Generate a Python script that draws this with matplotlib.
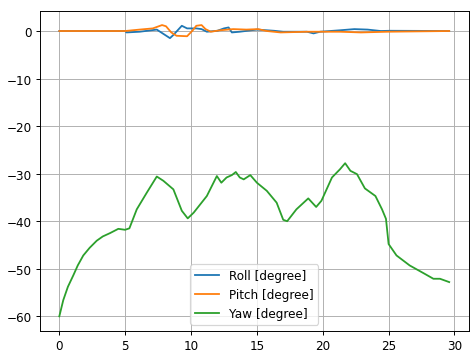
import numpy as np
import matplotlib
matplotlib.use("Agg")
import matplotlib.pyplot as plt

# yaw [degree] over time
yaw_t = [0.0, 0.3, 0.65, 1.06, 1.4, 1.82, 2.3, 2.84, 3.3, 3.85, 4.48, 4.99, 5.32, 5.88,
         6.64, 7.4, 7.9, 8.66, 9.3, 9.75, 10.2, 11.2, 11.96, 12.3, 12.7, 13.1, 13.4,
         13.7, 14.0, 14.5, 15.0, 15.75, 16.5, 17.0, 17.3, 18.0, 18.9, 19.5, 19.9,
         20.7, 21.3, 21.7, 22.1, 22.6, 23.2, 24.0, 24.5, 24.8, 25.0, 25.6, 26.6,
         27.7, 28.4, 28.9, 29.6]
yaw = [-60.0, -56.6, -53.8, -51.4, -49.3, -47.2, -45.6, -44.1, -43.2, -42.5, -41.6,
       -41.8, -41.5, -37.5, -34.0, -30.6, -31.5, -33.3, -37.8, -39.4, -38.2, -34.7,
       -30.5, -31.9, -30.8, -30.3, -29.65, -30.8, -31.2, -30.3, -31.9, -33.6, -36.1,
       -39.7, -40.0, -37.5, -35.2, -37.0, -35.7, -30.8, -29.1, -27.8, -29.4, -30.1,
       -33.1, -34.7, -37.5, -39.5, -44.8, -47.2, -49.3, -51.0, -52.1, -52.1, -52.8]

roll_t = [0.0, 5.0, 5.1, 6.1, 7.4, 7.9, 8.4, 8.67, 9.3, 9.7, 10.4, 10.8, 11.2, 12.0,
          12.5, 12.85, 13.1, 13.7, 15.0, 16.3, 17.0, 18.8, 19.3, 19.8, 21.3, 22.4,
          23.4, 24.4, 25.1, 29.6]
roll = [0.0, 0.0, -0.3, -0.15, 0.3, -0.6, -1.5, -0.8, 1.1, 0.55, 0.55, 0.4, -0.15,
        0.05, 0.55, 0.75, -0.3, -0.15, 0.3, 0.05, -0.15, -0.15, -0.5, -0.15, 0.15,
        0.4, 0.3, 0.0, 0.05, 0.0]

pitch_t = [0.0, 5.0, 6.1, 7.1, 7.8, 8.1, 8.5, 8.9, 9.7, 10.1, 10.4, 10.8, 11.1, 11.5,
           12.2, 13.2, 14.2, 15.1, 15.75, 16.8, 18.8, 19.8, 21.3, 22.9, 24.9, 29.6]
pitch = [0.0, 0.0, 0.3, 0.55, 1.25, 1.0, -0.3, -1.0, -1.1, 0.05, 1.1, 1.25, 0.4,
         -0.15, 0.15, 0.4, 0.3, 0.4, 0.0, -0.3, -0.15, -0.15, -0.15, -0.3, -0.15, 0.0]

# original looks like a default figure shrunk down, so scale everything via dpi
dpi = 86.5
fig = plt.figure(figsize=(474 / dpi, 363 / dpi), dpi=dpi)
ax = fig.add_axes([0.084, 0.0857, 0.9048, 0.8826])

ax.plot(roll_t, roll, label='Roll [degree]')
ax.plot(pitch_t, pitch, label='Pitch [degree]')
ax.plot(yaw_t, yaw, label='Yaw [degree]')

ax.grid(True)
ax.legend(loc='lower center')

fig.savefig('out.png', dpi=dpi)
